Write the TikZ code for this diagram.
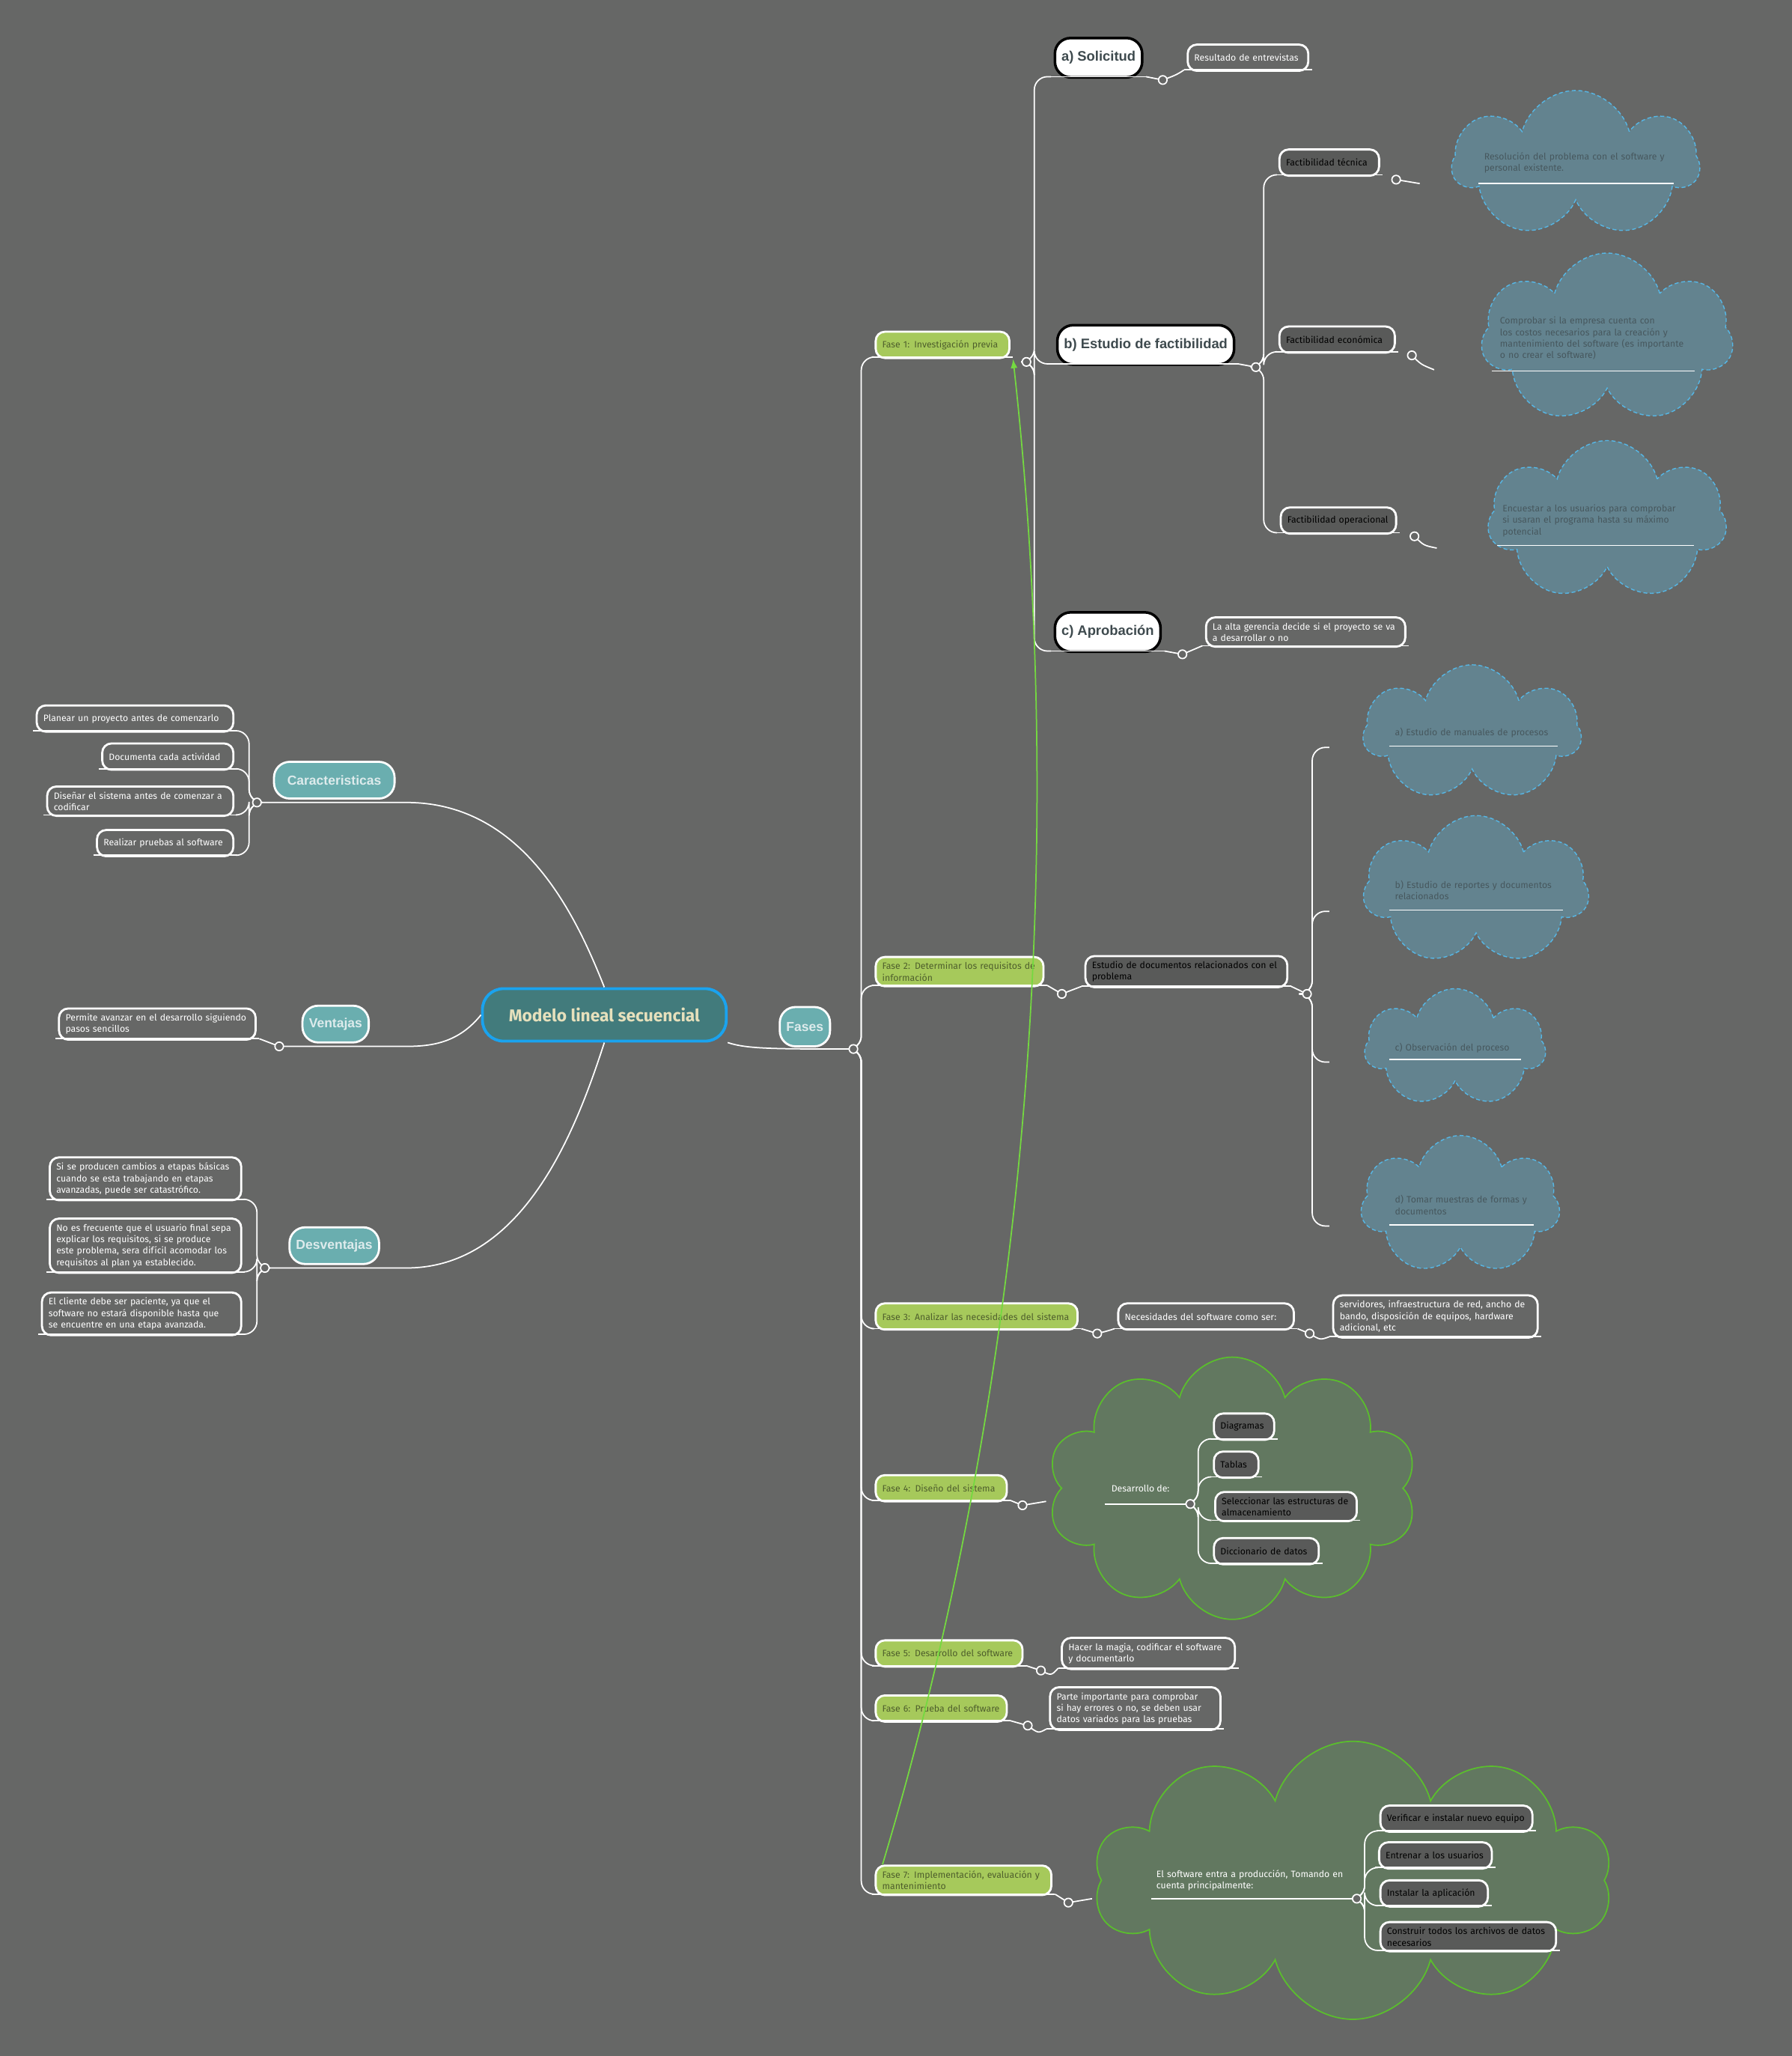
\documentclass[tikz,border=0pt]{standalone}
\usepackage{fontspec}
\setmainfont{Fira Sans}
\newfontfamily\hd{Liberation Sans}
\usetikzlibrary{shapes.symbols,arrows.meta,calc}
\definecolor{bg}{HTML}{666766}
\definecolor{teal}{HTML}{6AAEAF}
\definecolor{cen}{HTML}{427B7C}
\definecolor{cenb}{HTML}{1AA3EF}
\definecolor{cent}{HTML}{E6E0BC}
\definecolor{fase}{HTML}{A6C95B}
\definecolor{faset}{HTML}{4E5E2C}
\definecolor{dk}{HTML}{595A59}
\definecolor{bcl}{HTML}{63838F}
\definecolor{bclb}{HTML}{56B7E6}
\definecolor{gcl}{HTML}{627860}
\definecolor{gclb}{HTML}{5ABF2C}
\definecolor{ttxt}{HTML}{DDEBEC}
\definecolor{ctxt}{HTML}{3E4A4E}
\newcommand{\sz}{\fontsize{7}{8.8}\selectfont\hyphenpenalty=10000\exhyphenpenalty=10000}
\tikzset{
 base/.style={draw=white,line width=1.6pt,rounded corners=7pt,align=left,inner xsep=5pt,inner ysep=4pt,font=\sz},
 leaf/.style={base,fill=bg,text=white},
 dleaf/.style={base,fill=dk,text=black},
 fase/.style={base,fill=fase,text=faset},
 topic/.style={base,fill=teal,text=ttxt,rounded corners=12pt,font=\hd\bfseries\fontsize{10}{12}\selectfont,align=center},
 big/.style={base,fill=white,draw=black,line width=2pt,text=ctxt,rounded corners=12pt,font=\hd\bfseries\fontsize{10.5}{12}\selectfont,align=center},
 conn/.style={draw=white,line width=1pt,rounded corners=10pt},
 ul/.style={draw=white,line width=1pt},
 jn/.style={circle,draw=white,fill=bg,line width=1pt,minimum size=6.5pt,inner sep=0pt},
 bcloud/.style={cloud,cloud puffs=7,aspect=1.6,draw=bclb,densely dashed,fill=bcl,line width=0.8pt},
 gcloud/.style={cloud,cloud puffs=10,aspect=1.5,draw=gclb,fill=gcl,line width=1pt},
 ctext/.style={text=ctxt!75!bcl,font=\sz,align=left,inner sep=0pt},
}
\newcommand{\lf}[6]{\node[#5,text width=#4pt-10pt,minimum height=20pt] (#1) at (#2,#3) {#6};
 \draw[ul] ($(#1.south west)+(-2,-1.5)$) -- ($(#1.south east)+(2,-1.5)$);}
\newcommand{\rc}[2]{\draw[conn] (#1) -- ++(6,0) |- ($(#2.south west)+(-2,-1.5)$);}
\newcommand{\lc}[2]{\draw[conn] (#1) -- ++(-6,0) |- ($(#2.south east)+(2,-1.5)$);}
\begin{document}
\begin{tikzpicture}[x=1pt,y=-1pt]
\fill[bg] (0,0) rectangle (1367,1568);
\useasboundingbox (0,0) rectangle (1367,1568);

% clouds
\node[gcloud,minimum width=282pt,minimum height=200pt] (cl4) at (940,1135) {};
\node[gcloud,minimum width=395pt,minimum height=212pt] (cl7) at (1032,1434) {};
\node[bcloud,minimum width=188pt,minimum height=112pt] (bc1) at (1202,125) {};
\node[bcloud,minimum width=192pt,minimum height=130pt] (bc2) at (1226,258) {};
\node[bcloud,minimum width=182pt,minimum height=122pt] (bc3) at (1226,397) {};
\node[bcloud,minimum width=166pt,minimum height=104pt] (bd1) at (1123,559) {};
\node[bcloud,minimum width=172pt,minimum height=114pt] (bd2) at (1126,679) {};
\node[bcloud,minimum width=138pt,minimum height=90pt] (bd3) at (1110,799) {};
\node[bcloud,minimum width=152pt,minimum height=106pt] (bd4) at (1114,919) {};
\node[ctext,text width=148pt,anchor=west] (t1) at (1132,124) {Resolución del problema con el software y personal existente.};
\draw[ul] (1128,140) -- (1277,140);
\node[ctext,text width=148pt,anchor=west] (t2) at (1144,258) {Comprobar si la empresa cuenta con los costos necesarios para la creación y mantenimiento del software (es importante o no crear el software)};
\draw[ul] (1138,283) -- (1293,283);
\node[ctext,text width=146pt,anchor=west] (t3) at (1146,397) {Encuestar a los usuarios para comprobar si usaran el programa hasta su máximo potencial};
\draw[ul] (1142,416) -- (1292,416);
\node[ctext,text width=130pt,anchor=west] (d1) at (1064,559) {a) Estudio de manuales de procesos};
\draw[ul] (1060,569) -- (1188,569);
\node[ctext,text width=130pt,anchor=west] (d2) at (1064,679) {b) Estudio de reportes y documentos relacionados};
\draw[ul] (1060,694) -- (1192,694);
\node[ctext,text width=100pt,anchor=west] (d3) at (1064,799) {c) Observación del proceso};
\draw[ul] (1060,808) -- (1160,808);
\node[ctext,text width=110pt,anchor=west] (d4) at (1064,919) {d) Tomar muestras de formas y documentos};
\draw[ul] (1060,934) -- (1170,934);

% central + topics
\node[base,fill=cen,draw=cenb,line width=2.2pt,text=cent,rounded corners=16pt,font=\bfseries\fontsize{13}{15}\selectfont,minimum width=186pt,minimum height=40pt,align=center] (C) at (461,774) {Modelo lineal secuencial};
\node[topic,minimum height=30pt] (fases) at (614,783) {Fases};
\node[topic,minimum height=28pt,minimum width=92pt] (car) at (255,595) {Caracteristicas};
\node[topic,minimum height=28pt] (ven) at (256,781) {Ventajas};
\node[topic,minimum height=28pt] (des) at (255,950) {Desventajas};

\coordinate (jc) at (196,612);
\coordinate (jv) at (213,798);
\coordinate (jd) at (202,967);
\coordinate (jf) at (651,800);
\draw[conn] (jc) -- (300,612) .. controls (400,612) and (440,700) .. (C.north);
\draw[conn] (jv) -- (300,798) .. controls (330,798) and (350,795) .. (C.west);
\draw[conn] (jd) -- (300,967) .. controls (400,967) and (440,860) .. (C.south);
\draw[conn] (C.south east) .. controls (570,800) and (590,800) .. (jf);

\lf{c1}{103}{548}{150}{leaf}{Planear un proyecto antes de comenzarlo}
\lf{c2}{128}{577}{100}{leaf}{Documenta cada actividad}
\lf{c3}{107}{611}{142}{leaf}{Diseñar el sistema antes de comenzar a codificar}
\lf{c4}{126}{643}{104}{leaf}{Realizar pruebas al software}
\foreach \n in {c1,c2,c3,c4} {\lc{jc}{\n}}
\lf{v1}{120}{781}{150}{leaf}{Permite avanzar en el desarrollo siguiendo pasos sencillos}
\draw[ul] (jv) -- ($(v1.south east)+(2,-1.5)$);
\lf{e1}{111}{899}{146}{leaf}{Si se producen cambios a etapas básicas cuando se esta trabajando en etapas avanzadas, puede ser catastrófico.}
\lf{e2}{111}{950}{146}{leaf}{No es frecuente que el usuario final sepa explicar los requisitos, si se produce este problema, sera difícil acomodar los requisitos al plan ya establecido.}
\lf{e3}{108}{1002}{152}{leaf}{El cliente debe ser paciente, ya que el software no estará disponible hasta que se encuentre en una etapa avanzada.}
\foreach \n in {e1,e2,e3} {\lc{jd}{\n}}

\lf{f1}{719}{263}{102}{fase}{Fase 1: Investigación previa}
\lf{f2}{732}{741}{128}{fase}{Fase 2: Determinar los requisitos de información}
\lf{f3}{745}{1004}{154}{fase}{Fase 3: Analizar las necesidades del sistema}
\lf{f4}{718}{1135}{100}{fase}{Fase 4: Diseño del sistema}
\lf{f5}{724}{1261}{112}{fase}{Fase 5: Desarrollo del software}
\lf{f6}{718}{1303}{100}{fase}{Fase 6: Prueba del software}
\lf{f7}{735}{1434}{134}{fase}{Fase 7: Implementación, evaluación y mantenimiento}
\foreach \n in {f1,f2,f3,f4,f5,f6,f7} {\rc{jf}{\n}}

% Fase 1
\coordinate (j1) at (783,276);
\node[big,minimum height=30pt] (sa) at (838,44) {a) Solicitud};
\node[big,minimum height=30pt] (sb) at (874,263) {b) Estudio de factibilidad};
\node[big,minimum height=30pt] (sc) at (845,482) {c) Aprobación};
\foreach \n in {sa,sb,sc} {\draw[ul] ($(\n.south west)+(-2,-1.5)$) -- ($(\n.south east)+(2,-1.5)$); \rc{j1}{\n}}
\coordinate (ja) at (887,61);
\coordinate (jb) at (958,280);
\coordinate (jcc) at (902,499);
\draw[ul] ($(sa.south east)+(2,-1.5)$) -- (ja);
\draw[ul] ($(sb.south east)+(2,-1.5)$) -- (jb);
\draw[ul] ($(sc.south east)+(2,-1.5)$) -- (jcc);
\lf{ra}{952}{44}{92}{leaf}{Resultado de entrevistas}
\draw[conn] (ja) .. controls (895,58) and (898,57) .. ($(ra.south west)+(-2,-1.5)$);
\lf{rc}{996}{482}{152}{leaf}{La alta gerencia decide si el proyecto se va a desarrollar o no}
\draw[conn] (jcc) -- ($(rc.south west)+(-2,-1.5)$);
\lf{ft}{1014}{124}{76}{dleaf}{Factibilidad técnica}
\lf{fe}{1020}{259}{88}{dleaf}{Factibilidad económica}
\lf{fo}{1021}{397}{88}{dleaf}{Factibilidad operacional}
\foreach \n in {ft,fe,fo} {\rc{jb}{\n}}
\coordinate (jt) at (1065,137);
\coordinate (je) at (1077,271);
\coordinate (jo) at (1079,409);
\draw[ul] (jt) -- (1083,140);
\draw[ul] (je) .. controls (1084,278) .. (1094,282);
\draw[ul] (jo) .. controls (1086,416) .. (1096,418);

% Fase 2
\coordinate (j2) at (810,758);
\draw[ul] ($(f2.south east)+(2,-1.5)$) -- (j2);
\lf{s2}{905}{741}{154}{dleaf}{Estudio de documentos relacionados con el problema}
\draw[conn] (j2) -- ($(s2.south west)+(-2,-1.5)$);
\coordinate (j22) at (997,758);
\draw[ul] ($(s2.south east)+(2,-1.5)$) -- (j22);
\foreach \yy in {570,695,810,935} {\draw[conn] (j22) -- ++(4,0) |- (1014,\yy);}

% Fase 3
\coordinate (j3) at (837,1017);
\draw[ul] ($(f3.south east)+(2,-1.5)$) -- (j3);
\lf{s3}{920}{1004}{134}{leaf}{Necesidades del software como ser:}
\draw[conn] (j3) .. controls (845,1015) .. ($(s3.south west)+(-2,-1.5)$);
\coordinate (j33) at (999,1017);
\draw[ul] ($(s3.south east)+(2,-1.5)$) -- (j33);
\lf{r3}{1095}{1004}{156}{leaf}{servidores, infraestructura de red, ancho de bando, disposición de equipos, hardware adicional, etc}
\draw[conn] (j33) .. controls (1007,1022) .. ($(r3.south west)+(-2,-1.5)$);

% Fase 4
\coordinate (j4) at (780,1148);
\draw[ul] ($(f4.south east)+(2,-1.5)$) -- (j4);
\draw[ul] (j4) -- (798,1145);
\node[text=white,font=\sz,inner sep=0pt] (d4t) at (870,1135) {Desarrollo de:};
\coordinate (j44) at (908,1147);
\draw[ul] (843,1147) -- (j44);
\lf{g1}{949}{1088}{46}{dleaf}{Diagramas}
\lf{g2}{943}{1117}{34}{dleaf}{Tablas}
\lf{g3}{981}{1149}{108}{dleaf}{Seleccionar las estructuras de almacenamiento}
\lf{g4}{966}{1183}{80}{dleaf}{Diccionario de datos}
\foreach \n in {g1,g2,g3,g4} {\rc{j44}{\n}}

% Fase 5,6
\coordinate (j5) at (794,1274);
\draw[ul] ($(f5.south east)+(2,-1.5)$) -- (j5);
\lf{r5}{876}{1261}{132}{leaf}{Hacer la magia, codificar el software y documentarlo}
\draw[conn] (j5) .. controls (802,1278) .. ($(r5.south west)+(-2,-1.5)$);
\coordinate (j6) at (784,1316);
\draw[ul] ($(f6.south east)+(2,-1.5)$) -- (j6);
\lf{r6}{866}{1303}{130}{leaf}{Parte importante para comprobar si hay errores o no, se deben usar datos variados para las pruebas}
\draw[conn] (j6) .. controls (792,1322) .. ($(r6.south west)+(-2,-1.5)$);

% Fase 7
\coordinate (j7) at (815,1451);
\draw[ul] ($(f7.south east)+(2,-1.5)$) -- (j7);
\draw[ul] (j7) -- (833,1448);
\node[text=white,font=\sz,text width=150pt,align=left,inner sep=0pt,anchor=west] (t7) at (882,1434) {El software entra a producción, Tomando en cuenta principalmente:};
\coordinate (j77) at (1035,1448);
\draw[ul] (878,1448) -- (j77);
\lf{h1}{1111}{1387}{116}{dleaf}{Verificar e instalar nuevo equipo}
\lf{h2}{1095}{1415}{86}{dleaf}{Entrenar a los usuarios}
\lf{h3}{1094}{1444}{82}{dleaf}{Instalar la aplicación}
\lf{h4}{1120}{1477}{134}{dleaf}{Construir todos los archivos de datos necesarios}
\foreach \n in {h1,h2,h3,h4} {\rc{j77}{\n}}

\foreach \n in {jc,jv,jd,jf,j1,ja,jb,jcc,jt,je,jo,j2,j22,j3,j33,j4,j44,j5,j6,j7,j77} {\node[jn] at (\n) {};}

\draw[draw=fase!70!green,line width=1pt,-{Latex[length=7pt]}] ($(f7.north west)+(6,0)$) .. controls (770,1100) and (820,700) .. ($(f1.south east)+(2,0)$);
\end{tikzpicture}
\end{document}
